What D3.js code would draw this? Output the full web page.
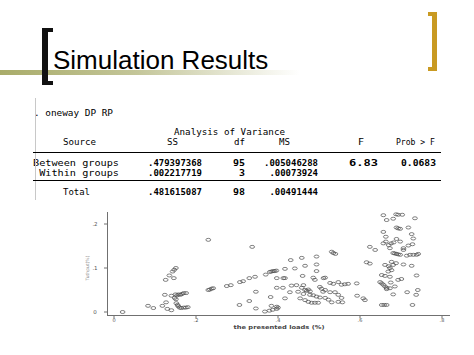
<!DOCTYPE html>
<html>
<head>
<meta charset="utf-8">
<script src="https://cdn.jsdelivr.net/npm/d3@7"></script>
<style>
  html, body { margin: 0; padding: 0; background: #fff; }
  svg { display: block; }
</style>
</head>
<body>
<div id="chart"></div>
<script>
// ---------- DATA ----------
const titleText = "Simulation Results";
const commandText = ". oneway DP RP";
const anovaTitle = "Analysis of Variance";
const headers = ["Source", "SS", "df", "MS", "F", "Prob > F"];
const rowSources = ["Between groups", " Within groups", "Total"];
const rowSS = [".479397368", ".002217719", ".481615087"];
const rowDF = ["95", "3", "98"];
const rowMS = [".005046288", ".00073924", ".00491444"];
const rowF = ["6.83", "", ""];
const rowP = ["0.0683", "", ""];

const xTicks = [0, 0.2, 0.4, 0.6, 0.8];
const xTickLabels = ["0", ".2", ".4", ".6", ".8"];
const yTicks = [0, 0.1, 0.2];
const yTickLabels = ["0", ".1", ".2"];
const xLabel = "the presented loads (%)";
const yLabel = "Tuthput(%)";

const loadX = [
  0.021,0.083,0.096,0.118,0.130,0.140,0.127,0.124,0.126,0.135,
  0.143,0.147,0.151,0.146,0.140,0.150,0.154,0.158,0.162,0.166,
  0.170,0.176,0.151,0.152,0.155,0.157,0.160,0.164,0.170,0.175,
  0.180,0.148,0.230,0.337,0.230,0.234,0.238,0.242,0.275,0.285,
  0.307,0.315,0.330,0.344,0.346,0.346,0.330,0.306,0.370,0.380,
  0.384,0.388,0.392,0.396,0.397,0.397,0.382,0.368,0.379,0.387,
  0.397,0.400,0.413,0.417,0.417,0.441,0.431,0.458,0.466,0.494,
  0.494,0.531,0.535,0.540,0.494,0.460,0.486,0.490,0.511,0.515,
  0.412,0.433,0.445,0.462,0.429,0.449,0.417,0.458,0.466,0.470,
  0.474,0.478,0.462,0.478,0.486,0.494,0.502,0.454,0.466,0.474,
  0.482,0.490,0.498,0.502,0.506,0.510,0.515,0.527,0.535,0.547,
  0.555,0.563,0.571,0.527,0.539,0.547,0.515,0.523,0.531,0.547,
  0.555,0.592,0.593,0.608,0.612,0.557,0.624,0.637,0.616,0.624,
  0.649,0.653,0.657,0.661,0.665,0.653,0.661,0.669,0.673,0.677,
  0.661,0.670,0.681,0.673,0.675,0.693,0.701,0.706,0.726,0.738,
  0.665,0.673,0.685,0.681,0.715,0.737,0.741,0.653,0.659,0.665,
  0.728,0.677,0.688,0.681,0.685,0.689,0.693,0.698,0.706,0.714,
  0.722,0.730,0.738,0.742,0.657,0.663,0.670,0.676,0.682,0.689,
  0.657,0.663,0.689,0.693,0.698,0.718,0.726,0.730,0.698,0.718,
  0.728,0.673,0.706,0.657,0.665,0.681,0.688,0.693,0.703,0.734,
  0.384,0.397
];
const throughputY = [
  0.000,0.014,0.009,0.014,0.007,0.004,0.022,0.039,0.073,0.083,
  0.092,0.096,0.100,0.077,0.037,0.040,0.038,0.040,0.039,0.041,
  0.043,0.043,0.029,0.020,0.016,0.013,0.010,0.009,0.010,0.010,
  0.011,0.032,0.164,0.148,0.050,0.051,0.053,0.054,0.059,0.061,
  0.068,0.070,0.077,0.080,0.046,0.008,0.025,0.016,0.085,0.091,
  0.092,0.093,0.093,0.094,0.077,0.055,0.034,0.001,0.003,0.005,
  0.007,0.010,0.077,0.077,0.098,0.099,0.118,0.123,0.105,0.126,
  0.108,0.137,0.134,0.132,0.093,0.082,0.078,0.073,0.077,0.078,
  0.055,0.060,0.061,0.061,0.045,0.046,0.031,0.055,0.050,0.048,
  0.051,0.047,0.041,0.039,0.038,0.035,0.033,0.031,0.027,0.023,
  0.021,0.021,0.021,0.057,0.053,0.046,0.050,0.066,0.064,0.068,
  0.062,0.063,0.064,0.045,0.045,0.039,0.032,0.028,0.022,0.023,
  0.032,0.065,0.037,0.031,0.027,0.022,0.148,0.141,0.113,0.110,
  0.068,0.065,0.062,0.058,0.055,0.084,0.082,0.092,0.100,0.095,
  0.107,0.104,0.107,0.080,0.067,0.073,0.075,0.108,0.105,0.083,
  0.052,0.054,0.058,0.040,0.045,0.039,0.050,0.016,0.016,0.016,
  0.016,0.114,0.111,0.134,0.133,0.132,0.131,0.130,0.141,0.128,
  0.130,0.130,0.130,0.132,0.156,0.160,0.152,0.156,0.158,0.166,
  0.182,0.171,0.192,0.190,0.189,0.192,0.177,0.167,0.160,0.151,
  0.154,0.145,0.145,0.220,0.209,0.212,0.222,0.221,0.221,0.213,
  0.014,0.012
];

// ---------- DRAW ----------
const W = 474, H = 355;
const svg = d3.select("#chart").append("svg")
  .attr("width", W).attr("height", H)
  .attr("viewBox", `0 0 ${W} ${H}`);

const defs = svg.append("defs");
const grad = defs.append("linearGradient").attr("id", "rule")
  .attr("x1", "0%").attr("x2", "100%").attr("y1", "0%").attr("y2", "0%");
grad.append("stop").attr("offset", "0%").attr("stop-color", "#a9ac6a");
grad.append("stop").attr("offset", "45%").attr("stop-color", "#c3c598");
grad.append("stop").attr("offset", "100%").attr("stop-color", "#ffffff");

// decorative rule under title
svg.append("rect").attr("x", 0).attr("y", 70).attr("width", 300).attr("height", 5)
  .attr("fill", "url(#rule)");

// left black bracket
const lb = svg.append("g").attr("fill", "#111");
lb.append("rect").attr("x", 42).attr("y", 28).attr("width", 6).attr("height", 57);
lb.append("rect").attr("x", 42).attr("y", 28).attr("width", 11).attr("height", 4);
lb.append("rect").attr("x", 42).attr("y", 81).attr("width", 11).attr("height", 4);

// right gold bracket
const rb = svg.append("g").attr("fill", "#c99a22");
rb.append("rect").attr("x", 432).attr("y", 12).attr("width", 5).attr("height", 59);
rb.append("rect").attr("x", 428).attr("y", 12).attr("width", 9).attr("height", 4);
rb.append("rect").attr("x", 428).attr("y", 67).attr("width", 9).attr("height", 4);

svg.append("text").attr("x", 53).attr("y", 69)
  .attr("font-family", "Liberation Sans, Arial, sans-serif")
  .attr("font-size", 26).attr("fill", "#000").text(titleText);

// ---------- Stata output ----------
const mono = "DejaVu Sans Mono, Liberation Mono, monospace";
const tg = svg.append("g").attr("font-family", mono).attr("font-size", 9).attr("fill", "#000");

svg.append("line").attr("x1", 35.5).attr("x2", 35.5).attr("y1", 98).attr("y2", 200)
  .attr("stroke", "#c8c8c8").attr("stroke-width", 1);

function txt(s, x, y, len, anchor) {
  const t = tg.append("text").attr("x", x).attr("y", y).attr("xml:space", "preserve")
    .style("white-space", "pre").text(s);
  if (anchor) t.attr("text-anchor", anchor);
  if (len) t.attr("textLength", len).attr("lengthAdjust", "spacingAndGlyphs");
  return t;
}

txt(commandText, 34, 116, 79);
txt(anovaTitle, 174, 135, 111);
// header
const headerY = 145;
txt(headers[0], 63, headerY, 33);
txt(headers[1], 167, headerY, 11);
txt(headers[2], 234, headerY, 11);
txt(headers[3], 279, headerY, 11);
txt(headers[4], 358, headerY, 6);
txt(headers[5], 396, headerY, 39);

svg.append("line").attr("x1", 33).attr("x2", 441).attr("y1", 152.5).attr("y2", 152.5)
  .attr("stroke", "#000").attr("stroke-width", 1);
svg.append("line").attr("x1", 33).attr("x2", 441).attr("y1", 180.5).attr("y2", 180.5)
  .attr("stroke", "#000").attr("stroke-width", 1);

const rowY = [166, 176, 195];
const srcX = [33, 33, 63];
const srcLen = [86, 86, 27];
rowSources.forEach((s, i) => {
  txt(s, srcX[i], rowY[i], srcLen[i]);
  txt(rowSS[i], 202, rowY[i], 54, "end").attr("font-weight", "bold");
  txt(rowDF[i], 245, rowY[i], rowDF[i].length * 6, "end").attr("font-weight", "bold");
  txt(rowMS[i], 318, rowY[i], rowMS[i].length * 5.4, "end").attr("font-weight", "bold");
  if (rowF[i]) txt(rowF[i], 378, rowY[i], 29, "end").attr("font-weight", "bold");
  if (rowP[i]) txt(rowP[i], 436, rowY[i], 35, "end").attr("font-weight", "bold");
});

// ---------- Scatter plot ----------
const x = d3.scaleLinear().domain([0, 0.8]).range([114, 442]);
const y = d3.scaleLinear().domain([0, 0.2]).range([312, 224]);

const axisColor = "#707070";
const pg = svg.append("g");

// axis lines
pg.append("line").attr("x1", 107).attr("x2", 450).attr("y1", 315.5).attr("y2", 315.5)
  .attr("stroke", axisColor).attr("stroke-width", 1);
pg.append("line").attr("x1", 107.5).attr("x2", 107.5).attr("y1", 212).attr("y2", 316)
  .attr("stroke", axisColor).attr("stroke-width", 1);

// x ticks
const xt = pg.selectAll("g.xt").data(xTicks).join("g").attr("class", "xt")
  .attr("transform", d => `translate(${x(d)},0)`);
xt.append("line").attr("y1", 316).attr("y2", 318.5).attr("stroke", axisColor);
xt.append("text").attr("y", 322).attr("text-anchor", "middle")
  .attr("font-family", "DejaVu Sans, sans-serif").attr("font-size", 5)
  .attr("fill", "#555").text((d, i) => xTickLabels[i]);

// y ticks
const yt = pg.selectAll("g.yt").data(yTicks).join("g").attr("class", "yt")
  .attr("transform", d => `translate(0,${y(d)})`);
yt.append("line").attr("x1", 104).attr("x2", 107).attr("stroke", axisColor);
yt.append("text").attr("x", 95).attr("y", 2).attr("text-anchor", "middle")
  .attr("font-family", "DejaVu Sans, sans-serif").attr("font-size", 5.5)
  .attr("fill", "#555").text((d, i) => yTickLabels[i]);

// axis titles
pg.append("text").attr("x", 279).attr("y", 328.5).attr("text-anchor", "middle")
  .attr("font-family", "DejaVu Sans, sans-serif").attr("font-size", 5.3)
  .attr("font-weight", "bold").attr("fill", "#444")
  .attr("textLength", 91).attr("lengthAdjust", "spacingAndGlyphs").text(xLabel);
pg.append("text").attr("transform", "translate(89,268) rotate(-90)")
  .attr("text-anchor", "middle")
  .attr("font-family", "DejaVu Sans, sans-serif").attr("font-size", 4.5)
  .attr("fill", "#888").text(yLabel);

// points
const pts = loadX.map((v, i) => ({ x: v, y: throughputY[i] }));
pg.selectAll("ellipse.pt").data(pts).join("ellipse").attr("class", "pt")
  .attr("cx", d => x(d.x)).attr("cy", d => y(d.y))
  .attr("rx", 2.4).attr("ry", 1.5)
  .attr("fill", "none").attr("stroke", "#4a4a4a").attr("stroke-width", 0.7);
</script>
</body>
</html>
